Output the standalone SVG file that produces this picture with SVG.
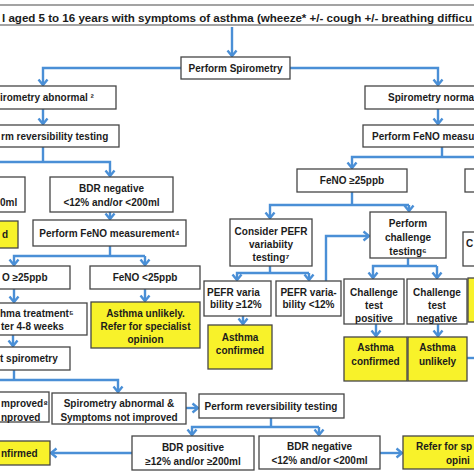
<svg xmlns="http://www.w3.org/2000/svg" width="474" height="474" viewBox="0 0 474 474">
<defs>
<style>
.box{fill:#ffffff;stroke:#454545;stroke-width:1.3}
.yel{fill:#f8f22a;stroke:#454545;stroke-width:1.3}
.t{font-family:"Liberation Sans",Arial,sans-serif;font-weight:bold;font-size:10px;fill:#1c1c1c;text-anchor:middle}
.s{text-anchor:start}
.c{fill:none;stroke:#4a8fd6;stroke-width:2.4}
.a{marker-end:url(#arr)}
</style>
<marker id="arr" markerUnits="userSpaceOnUse" markerWidth="12" markerHeight="12" refX="7" refY="6" orient="auto">
<path d="M1.5,1.5 L7,6 L1.5,10.5" fill="none" stroke="#4a8fd6" stroke-width="2.4"/>
</marker>
</defs>
<rect width="474" height="474" fill="#ffffff"/>

<g id="title">
<rect x="-5" y="5" width="484" height="20" fill="#ffffff" stroke="#858585" stroke-width="1.5"/>
<text class="t s" x="2" y="22" style="font-size:11.6px" textLength="470" lengthAdjust="spacing">l aged 5 to 16 years with symptoms of asthma (wheeze* +/- cough +/- breathing difficu</text>
</g>

<g id="connectors">
<path class="c a" d="M232,27 V56"/>
<path class="c a" d="M181,68 H43 V85"/>
<path class="c a" d="M290,68 H438 V85"/>
<path class="c a" d="M43,109 V124"/>
<path class="c a" d="M438,109 V124"/>
<path class="c" d="M43,147 V162"/>
<path class="c a" d="M-5,162 H110 V176"/>
<path class="c a" d="M110,212 V219"/>
<path class="c" d="M110,246 V256"/>
<path class="c a" d="M145,256 H14 V265"/>
<path class="c a" d="M145,256 V265"/>
<path class="c a" d="M14,289 V302"/>
<path class="c a" d="M145,289 V301"/>
<path class="c a" d="M13,335 V346"/>
<path class="c" d="M14,370 V380"/>
<path class="c a" d="M-5,380 H118 V392"/>
<path class="c a" d="M186,408 H198"/>
<path class="c" d="M271,418 V427"/>
<path class="c a" d="M319,427 H192 V435"/>
<path class="c a" d="M319,427 V435"/>
<path class="c a" d="M132,453 H51"/>
<path class="c a" d="M380,453 H402"/>
<path class="c" d="M442,147 V157"/>
<path class="c a" d="M480,157 H352 V168"/>
<path class="c" d="M352,192 V205"/>
<path class="c a" d="M409,205 H270 V218"/>
<path class="c a" d="M409,205 V211"/>
<path class="c" d="M270,266 V273"/>
<path class="c a" d="M309,273 H237 V280"/>
<path class="c a" d="M309,273 V280"/>
<path class="c a" d="M326,281 V236 H369"/>
<path class="c a" d="M243,316 V324"/>
<path class="c" d="M408,258 V266"/>
<path class="c a" d="M437,266 H373 V278"/>
<path class="c a" d="M437,266 V278"/>
<path class="c a" d="M376,324 V336"/>
<path class="c a" d="M438,324 V336"/>
<path class="c" d="M467,358 H480"/>
</g>

<g id="perform-spirometry">
<rect class="box" x="181" y="57" width="109" height="22"/>
<text class="t" x="235.5" y="71.5">Perform Spirometry</text>
</g>

<g id="spirometry-abnormal">
<rect class="box" x="-10" y="86" width="126" height="23"/>
<text class="t s" x="0" y="101">irometry abnormal ²</text>
</g>

<g id="reversibility-left">
<rect class="box" x="-10" y="125" width="129" height="22"/>
<text class="t s" x="1" y="139.5">rm reversibility testing</text>
</g>

<g id="spirometry-normal">
<rect class="box" x="365" y="86" width="120" height="23"/>
<text class="t s" x="388" y="101">Spirometry norma</text>
</g>

<g id="feno-right">
<rect class="box" x="363" y="125" width="120" height="22"/>
<text class="t s" x="372" y="139.5">Perform FeNO measu</text>
</g>

<g id="bdr-positive-top">
<rect class="box" x="-10" y="177" width="35" height="35"/>
<text class="t s" x="0" y="205.5">0ml</text>
</g>

<g id="bdr-negative-top">
<rect class="box" x="50" y="177" width="123" height="35"/>
<text class="t" x="111.5" y="191.5">BDR negative</text>
<text class="t" x="111.5" y="205.5">&lt;12% and/or &lt;200ml</text>
</g>

<g id="confirmed-left-top">
<rect class="yel" x="-10" y="221" width="28" height="27"/>
<text class="t s" x="2" y="237.5">d</text>
</g>

<g id="feno-measure">
<rect class="box" x="33" y="220" width="153" height="26"/>
<text class="t" x="109.5" y="236.5">Perform FeNO measurement⁴</text>
</g>

<g id="feno-high-left">
<rect class="box" x="-40" y="266" width="110" height="23"/>
<text class="t s" x="2" y="281">O ≥25ppb</text>
</g>

<g id="feno-low-left">
<rect class="box" x="90" y="266" width="110" height="23"/>
<text class="t" x="145" y="281">FeNO &lt;25ppb</text>
</g>

<g id="asthma-treatment">
<rect class="box" x="-10" y="303" width="97" height="32"/>
<text class="t s" x="0" y="316.5">hma treatment⁵</text>
<text class="t s" x="1" y="329.5">ter 4-8 weeks</text>
</g>

<g id="unlikely-refer">
<rect class="yel" x="91" y="302" width="109" height="46"/>
<text class="t" x="145.5" y="316.5">Asthma unlikely.</text>
<text class="t" x="145.5" y="329.5">Refer for specialist</text>
<text class="t" x="145.5" y="342.5">opinion</text>
</g>

<g id="repeat-spirometry">
<rect class="box" x="-10" y="347" width="80" height="23"/>
<text class="t s" x="0" y="361.5">t spirometry</text>
</g>

<g id="improved">
<rect class="box" x="-10" y="392" width="59" height="30"/>
<text class="t s" x="1" y="406.5">mproved⁸</text>
<text class="t s" x="1" y="420.5">nproved</text>
</g>

<g id="not-improved">
<rect class="box" x="52" y="393" width="134" height="31"/>
<text class="t" x="119" y="406.5">Spirometry abnormal &amp;</text>
<text class="t" x="119" y="420.5">Symptoms not improved</text>
</g>

<g id="reversibility-bottom">
<rect class="box" x="199" y="394" width="145" height="24"/>
<text class="t" x="271" y="409.5">Perform reversibility testing</text>
</g>

<g id="confirmed-bottom">
<rect class="yel" x="-10" y="441" width="60" height="24"/>
<text class="t s" x="1" y="456.5">nfirmed</text>
</g>

<g id="bdr-positive-bottom">
<rect class="box" x="132" y="436" width="122" height="34"/>
<text class="t" x="193" y="450.5">BDR positive</text>
<text class="t" x="193" y="464.5">≥12% and/or ≥200ml</text>
</g>

<g id="bdr-negative-bottom">
<rect class="box" x="259" y="436" width="121" height="33"/>
<text class="t" x="319.5" y="450">BDR negative</text>
<text class="t" x="319.5" y="463.5">&lt;12% and/or &lt;200ml</text>
</g>

<g id="refer-bottom">
<rect class="yel" x="403" y="436" width="80" height="33"/>
<text class="t s" x="416" y="450">Refer for sp</text>
<text class="t s" x="446" y="463.5">opini</text>
</g>

<g id="feno-high-right">
<rect class="box" x="297" y="169" width="110" height="23"/>
<text class="t" x="352" y="183.5">FeNO ≥25ppb</text>
</g>

<g id="feno-low-right">
<rect class="box" x="465" y="169" width="20" height="23"/>
</g>

<g id="consider-pefr">
<rect class="box" x="230" y="219" width="82" height="47"/>
<text class="t" x="271" y="234.5">Consider PEFR</text>
<text class="t" x="271" y="247.5">variabiity</text>
<text class="t" x="271" y="260.5">testing⁷</text>
</g>

<g id="challenge-testing">
<rect class="box" x="370" y="212" width="76" height="46"/>
<text class="t" x="408" y="226.5">Perform</text>
<text class="t" x="408" y="240.5">challenge</text>
<text class="t" x="408" y="254.5">testing⁶</text>
</g>

<g id="right-partial">
<rect class="box" x="463" y="232" width="20" height="34"/>
<text class="t s" x="466" y="247">C</text>
</g>

<g id="right-yellow">
<rect class="yel" x="468" y="278" width="15" height="44"/>
</g>

<g id="pefr-high">
<rect class="box" x="204" y="281" width="67" height="35"/>
<text class="t s" x="207" y="295.5">PEFR varia</text>
<text class="t s" x="210" y="308">bility ≥12%</text>
</g>

<g id="pefr-low">
<rect class="box" x="276" y="281" width="65" height="35"/>
<text class="t" x="308.5" y="295.5">PEFR varia-</text>
<text class="t" x="308.5" y="308">bility &lt;12%</text>
</g>

<g id="confirmed-pefr">
<rect class="yel" x="208" y="325" width="64" height="44"/>
<text class="t" x="240" y="340.5">Asthma</text>
<text class="t" x="240" y="353.5">confirmed</text>
</g>

<g id="challenge-positive">
<rect class="box" x="344" y="279" width="60" height="45"/>
<text class="t" x="374" y="295.5">Challenge</text>
<text class="t" x="374" y="308.5">test</text>
<text class="t" x="374" y="321.5">positive</text>
</g>

<g id="challenge-negative">
<rect class="box" x="407" y="279" width="60" height="45"/>
<text class="t" x="437" y="295.5">Challenge</text>
<text class="t" x="437" y="308.5">test</text>
<text class="t" x="437" y="321.5">negative</text>
</g>

<g id="confirmed-challenge">
<rect class="yel" x="344" y="337" width="63" height="44"/>
<text class="t" x="375.5" y="350.5">Asthma</text>
<text class="t" x="375.5" y="364.5">confirmed</text>
</g>

<g id="unlikely-challenge">
<rect class="yel" x="408" y="337" width="59" height="44"/>
<text class="t" x="437.5" y="350.5">Asthma</text>
<text class="t" x="437.5" y="364.5">unlikely</text>
</g>
</svg>
